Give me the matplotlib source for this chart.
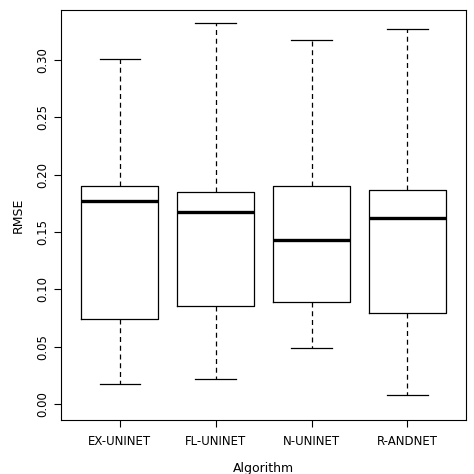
import matplotlib
matplotlib.use("Agg")
import matplotlib.pyplot as plt

algorithms = ["EX-UNINET", "FL-UNINET", "N-UNINET", "R-ANDNET"]
whisk_lo = [0.017, 0.022, 0.049, 0.008]
q1 = [0.074, 0.085, 0.089, 0.079]
medians = [0.177, 0.167, 0.143, 0.162]
q3 = [0.190, 0.185, 0.190, 0.187]
whisk_hi = [0.301, 0.332, 0.317, 0.327]
yticks = [0.00, 0.05, 0.10, 0.15, 0.20, 0.25, 0.30]

stats = []
for name, lo, a, m, b, hi in zip(algorithms, whisk_lo, q1, medians, q3, whisk_hi):
    stats.append({"label": name, "whislo": lo, "q1": a, "med": m, "q3": b, "whishi": hi, "fliers": []})

fig = plt.figure(figsize=(4.74, 4.74), dpi=100)
ax = fig.add_axes([0.129, 0.114, 0.854, 0.865])
ax.bxp(stats, widths=0.8, capwidths=0.42, showfliers=False,
       boxprops=dict(color="black", linewidth=0.9),
       medianprops=dict(color="black", linewidth=2.4),
       whiskerprops=dict(color="black", linewidth=0.9, linestyle=(0, (4, 3))),
       capprops=dict(color="black", linewidth=0.9))
ax.set_xlim(0.39, 4.61)
ax.set_ylim(-0.014, 0.3436)
ax.set_yticks(yticks)
ax.set_yticklabels([f"{t:.2f}" for t in yticks], rotation=90, va="center")
ax.tick_params(labelsize=8.5, length=5)
ax.tick_params(axis="x", pad=6)
ax.set_xlabel("Algorithm", fontsize=9, labelpad=10)
ax.set_ylabel("RMSE", fontsize=9, labelpad=8)
fig.savefig("out.png", dpi=100)
